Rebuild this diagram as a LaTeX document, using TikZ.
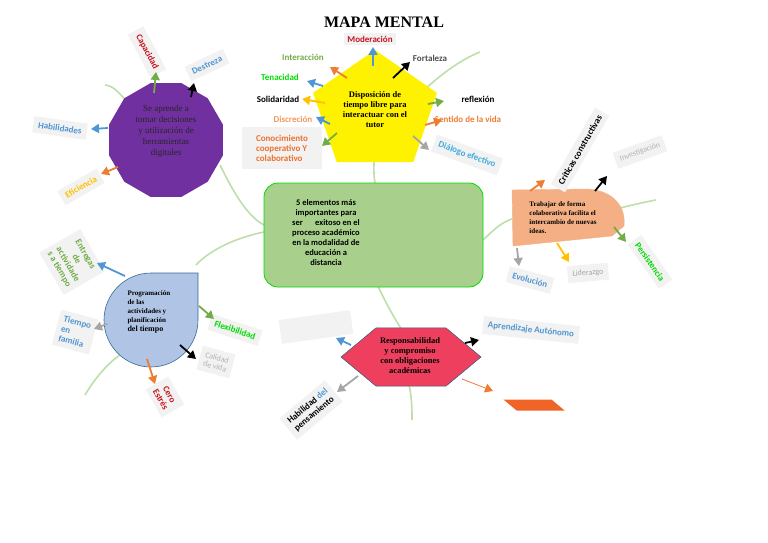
\documentclass[tikz,border=0pt]{standalone}
\usepackage{fontspec}
\setmainfont{Liberation Serif}
\newfontfamily\lblfont{Carlito}
\usetikzlibrary{shapes.geometric,arrows.meta}
\definecolor{mapgreen}{RGB}{168,208,140}
\definecolor{linkgreen}{RGB}{190,222,170}
\definecolor{purp}{RGB}{112,48,160}
\definecolor{peach}{RGB}{244,176,132}
\definecolor{dropblue}{RGB}{176,196,230}
\definecolor{hexred}{RGB}{238,64,94}
\definecolor{lblblue}{RGB}{80,150,210}
\definecolor{lblgreen}{RGB}{112,173,71}
\definecolor{lbllime}{RGB}{0,220,0}
\definecolor{lblorange}{RGB}{237,125,49}
\definecolor{lblred}{RGB}{200,20,30}
\definecolor{lblgold}{RGB}{255,192,0}
\definecolor{boxgray}{RGB}{242,242,242}

\tikzset{
  lbl/.style={font=\lblfont\bfseries\fontsize{9}{10}\selectfont, inner sep=3pt, align=center},
  gbox/.style={lbl, fill=boxgray, inner sep=5pt},
  ghost/.style={lbl, text=gray!60},
  link/.style={linkgreen, line width=1.6pt},
  br/.style={line width=1.8pt, -{Triangle[width=9pt,length=8pt]}},
  inner/.style={font=\bfseries\fontsize{8.5}{10}\selectfont, align=center}
}

\begin{document}
\begin{tikzpicture}[x=1pt,y=-1pt]
\useasboundingbox (0,0) rectangle (768,543);

% title
\node (title) at (384,22) {\fontsize{16}{18}\selectfont\bfseries MAPA MENTAL};

% green links
\draw[link] (375,183) .. controls (372,165) and (376,150) .. (376,138);
\draw[link] (422,92) .. controls (440,75) and (460,60) .. (480,52);
\draw[link] (264,225) .. controls (245,215) and (230,185) .. (220,165);
\draw[link] (105,85) .. controls (115,86) and (120,95) .. (128,102);
\draw[link] (264,232) .. controls (235,238) and (210,250) .. (196,265);
\draw[link] (85,395) .. controls (95,378) and (110,360) .. (125,352);
\draw[link] (375,280) .. controls (382,295) and (392,315) .. (402,330);
\draw[link] (409,385) .. controls (412,398) and (412,410) .. (412,420);
\draw[link] (483,240) .. controls (492,232) and (500,222) .. (515,218);
\draw[link] (620,208) .. controls (632,205) and (645,202) .. (656,200);

% center
\node (ctr) [draw=lbllime, line width=0.8pt, fill=mapgreen, rounded corners=14pt,
  minimum width=219pt, minimum height=104pt] at (373.5,235) {};
\node (ctrtxt) [inner, font=\lblfont\bfseries\fontsize{8.5}{10}\selectfont] at (326,233)
  {5 elementos más\\importantes para\\ser \quad\ exitoso en el\\proceso académico\\en la modalidad de\\educación a\\distancia};

% purple branch
\node (purp) [regular polygon, regular polygon sides=12, minimum size=118pt,
  fill=purp] at (166,140) {};
\node [align=center, font=\fontsize{9}{11}\selectfont, text=black!85] at (166,131)
  {Se aprende a\\tomar decisiones\\y utilización de\\herramientas\\digitales};
\node (capac) [gbox, text=lblred, rotate=-62] at (147,52) {Capacidad};
\node (destr) [gbox, text=lblblue, rotate=25] at (207,65) {Destreza};
\node (habil) [gbox, text=lblblue, rotate=-8] at (60,128) {Habilidades};
\node (efic) [gbox, text=lblgold, rotate=30] at (81,187) {Eficiencia};
\draw[br, lblgreen] (154,93) -- (156,72);
\draw[br, black] (191,97) -- (194,83);
\draw[br, lblblue] (108,128) -- (91,129);
\draw[br, lblorange] (118,167) -- (101,174);

% pentagon branch
\node (pent) [regular polygon, regular polygon sides=5, minimum size=124pt,
  fill=yellow, inner sep=0pt, xscale=1.05] at (375,112) {};
\node [inner] at (375,110)
  {Disposición de\\tiempo libre para\\interactuar con el\\tutor};
\node (moder) [gbox, text=lblred, inner sep=3pt] at (370,39) {Moderación};
\node (fort) [ghost, text=black!70] at (430,58) {Fortaleza};
\node (inter) [lbl, text=lblgreen] at (303,57) {Interacción};
\node (tenac) [lbl, text=lbllime] at (280,77) {Tenacidad};
\node (solid) [lbl] at (278,99) {Solidaridad};
\node (discr) [lbl, text=lblorange!80] at (293,119) {Discreción};
\node (conoc) [gbox, text=lblorange!90!red, align=left, minimum width=80pt,
  minimum height=42pt] at (282,148) {Conocimiento\\cooperativo Y\\colaborativo};
\node (reflex) [lbl] at (478,99) {reflexión};
\node (sentido) [lbl, text=lblorange] at (468,119) {Sentido de la vida};
\node (dialogo) [gbox, text=lblblue!80!cyan, rotate=-20] at (467,155) {Diálogo efectivo};
\draw[br, lblblue] (373,66) -- (373,47);
\draw[br, black] (393,78) -- (410,62);
\draw[br, lblorange] (347,78) -- (330,67);
\draw[br, lblblue] (323,86) -- (307,81);
\draw[br, lblgold] (325,103) -- (302,99);
\draw[br, lblblue] (330,124) -- (316,117);
\draw[br, lblgreen] (337,133) -- (322,146);
\draw[br, lblgreen] (428,104) -- (444,101);
\draw[br, lblorange] (425,125) -- (442,120);
\draw[br, gray!70] (413,136) -- (429,150);

% peach branch
\draw[fill=peach, draw=peach] (512,190) -- (588,189)
  .. controls (615,191) and (626,208) .. (624,226)
  -- (612,236) -- (513,246) -- cycle;
\node (peach) [align=left, font=\bfseries\fontsize{7}{9}\selectfont] at (563,218)
  {Trabajar de forma\\colaborativa facilita el\\intercambio de nuevas\\ideas.};
\node (crit) [gbox, rotate=60] at (580,150) {Críticas constructivas};
\node (invest) [gbox, text=gray!60, font=\lblfont\fontsize{8}{9}\selectfont, rotate=20] at (640,152) {Investigación};
\node (persist) [gbox, text=lbllime, rotate=-55] at (650,262) {Persistencia};
\node (lider) [gbox, text=gray!70, font=\lblfont\fontsize{8}{9}\selectfont, rotate=5] at (588,273) {Liderazgo};
\node (evol) [gbox, text=lblblue, rotate=-15] at (530,280) {Evolución};
\draw[br, lblorange] (530,191) -- (545,180);
\draw[br, black] (595,191) -- (607,176);
\draw[br, lblgreen] (614,227) -- (626,242);
\draw[br, lblgold] (557,243) -- (569,262);
\draw[br, gray!70] (517,248) -- (519,266);

% drop branch
\draw[fill=dropblue, draw=lblblue!70!black, line width=0.6pt]
  (198,273) -- (198,320) arc (0:270:47) -- cycle;
\node (drop) [anchor=west, align=left, font=\bfseries\fontsize{7}{9}\selectfont] at (124,312)
  {Programación\\de las\\actividades y\\planificación\\\fontsize{8}{9}\selectfont del tiempo};
\node (entreg) [gbox, text=lblgreen, rotate=-60, align=center] at (72,262)
  {Entregas\\de\\actividade\\s a tiempo};
\node (famil) [gbox, text=lblblue, rotate=-15, align=left] at (75,332) {Tiempo\\en\\familia};
\node (flex) [gbox, text=lbllime, rotate=-18] at (235,330) {Flexibilidad};
\node (calid) [gbox, text=gray!60, font=\lblfont\fontsize{8}{9}\selectfont, rotate=-15] at (216,362) {Calidad\\de vida};
\node (cero) [gbox, text=lblred, rotate=-60] at (165,397) {Cero\\Estrés};
\draw[br, lblblue] (125,276) -- (97,263);
\draw[br, gray!70] (107,324) -- (94,329);
\draw[br, lblgreen] (199,306) -- (214,319);
\draw[br, black] (180,345) -- (196,359);
\draw[br, lblorange] (147,359) -- (155,384);

% hexagon branch
\node (hex) [regular polygon, regular polygon sides=6,
  minimum size=140pt, yscale=0.48, fill=hexred, draw=lblblue!60!black, line width=0.5pt] at (411,357) {};
\node [inner] at (410,356)
  {Responsabilidad\\y compromiso\\con obligaciones\\académicas};
\node (blank) [fill=boxgray, rotate=8, minimum width=72pt, minimum height=24pt] at (316,327) {};
\node (aprend) [gbox, text=lblblue, rotate=-6] at (531,330) {Aprendizaje Autónomo};
\node (pensam) [gbox, rotate=40, align=center] at (311,410) {Habilidad \textcolor{lblblue}{del}\\pensamiento};
\node (recurso) [fill=lblorange!80!red, xslant=-1.2, minimum width=48pt, minimum height=11pt, inner sep=0pt] at (534,405) {};
\draw[br, lblblue] (351,345) -- (336,338);
\draw[br, black] (465,343) -- (479,340);
\draw[br, gray!70] (358,376) -- (337,392);
\draw[br, lblorange, line width=0.8pt] (462,379) -- (493,391);
\end{tikzpicture}
\end{document}
